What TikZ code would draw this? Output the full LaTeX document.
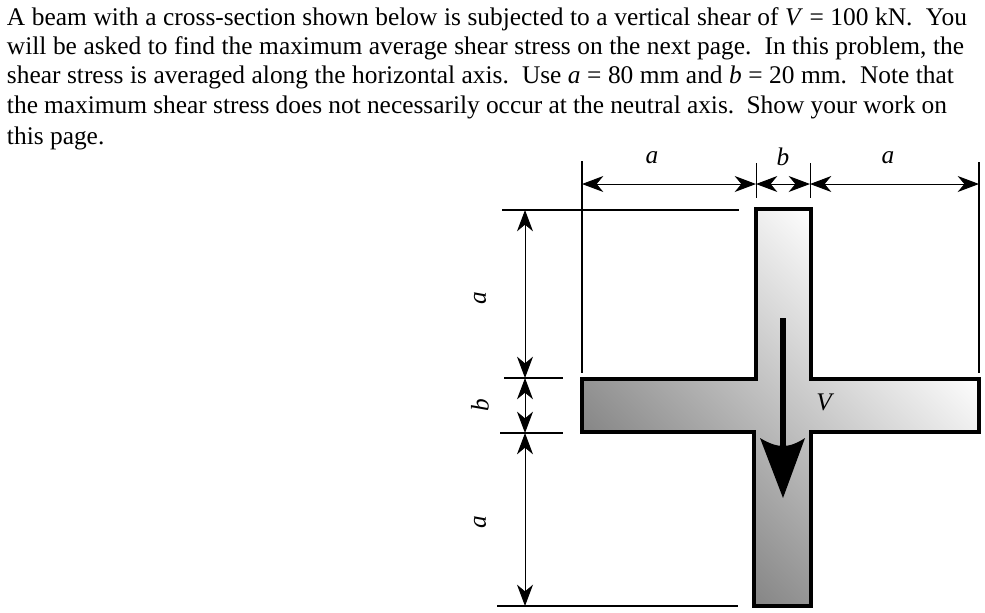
\documentclass[tikz,border=0pt]{standalone}
\usepackage{fontspec}
\setmainfont{Liberation Serif}
\usetikzlibrary{arrows.meta}
\tikzset{
 x=0.75pt,y=-0.75pt,
 txt/.style={anchor=base west,inner sep=0pt,outer sep=0pt,font=\fontsize{19.05pt}{22pt}\selectfont},
 lab/.style={inner sep=0pt,outer sep=0pt,font=\fontsize{19pt}{22pt}\selectfont\itshape},
 ext/.style={line width=1.5pt,black},
 dim/.style={line width=0.75pt,black,{Stealth[length=16pt,width=12pt,inset=5pt]}-{Stealth[length=16pt,width=12pt,inset=5pt]}},
}
\begin{document}
\begin{tikzpicture}
\useasboundingbox (0,0) rectangle (985,612);
% text
\node[txt] (l1) at (7,25) {\makebox[720pt][s]{A beam with a cross-section shown below is subjected to a vertical shear of \textit{V} = 100 kN.\ \ You}};
\node[txt] (l2) at (7,54) {\makebox[717.75pt][s]{will be asked to find the maximum average shear stress on the next page.\ \ In this problem, the}};
\node[txt] (l3) at (7,83.5) {\makebox[710.25pt][s]{shear stress is averaged along the horizontal axis.\ \ Use \textit{a} = 80 mm and \textit{b} = 20 mm.\ \ Note that}};
\node[txt] (l4) at (7,113) {\makebox[705pt][s]{the maximum shear stress does not necessarily occur at the neutral axis.\ \ Show your work on}};
\node[txt] (l5) at (7,144) {this page.};
% cross
\begin{scope}
\clip (756,209) -- (811,209) -- (811,379) -- (979,379) -- (979,432) -- (811,432) -- (811,606) -- (754,606) -- (754,432) -- (582,432) -- (582,379) -- (756,379) -- cycle;
\shade[transform canvas={rotate around={45:(781,405)}},left color=black!48,right color=white] (781-162,405-420) rectangle (781+162,405+420);
\end{scope}
\draw[line width=2.7pt,line join=miter] (756,209) -- (811,209) -- (811,379) -- (979,379) -- (979,432) -- (811,432) -- (811,606) -- (754,606) -- (754,432) -- (582,432) -- (582,379) -- (756,379) -- cycle;
% extension lines
\coordinate (e1a) at (582,161); \coordinate (e1b) at (582,373);
\coordinate (e2a) at (756,163); \coordinate (e2b) at (756,198);
\coordinate (e3a) at (810,163); \coordinate (e3b) at (810,198);
\coordinate (e4a) at (979,162); \coordinate (e4b) at (979,373);
\draw[ext] (e1a) -- (e1b);
\draw[line width=0.75pt] (e2a) -- (e2b);
\draw[line width=0.75pt] (e3a) -- (e3b);
\draw[ext] (e4a) -- (e4b);
\coordinate (h1a) at (502,210); \coordinate (h1b) at (739,210);
\coordinate (h2a) at (504,378); \coordinate (h2b) at (563,378);
\coordinate (h3a) at (500,433); \coordinate (h3b) at (563,433);
\coordinate (h4a) at (497,606); \coordinate (h4b) at (738,606);
\draw[ext] (h1a) -- (h1b);
\draw[ext] (h2a) -- (h2b);
\draw[ext] (h3a) -- (h3b);
\draw[ext] (h4a) -- (h4b);
% dimensions
\coordinate (d1) at (582,184); \coordinate (d2) at (756,184); \coordinate (d3) at (810,184); \coordinate (d4) at (979,184);
\draw[dim] (d1) -- (d2);
\draw[dim] (d2) -- (d3);
\draw[dim] (d3) -- (d4);
\coordinate (v1) at (525,210); \coordinate (v2) at (525,378); \coordinate (v3) at (525,433); \coordinate (v4) at (525,606);
\draw[dim] (v1) -- (v2);
\draw[dim] (v2) -- (v3);
\draw[dim] (v3) -- (v4);
% V arrow
\coordinate (vs) at (783,318); \coordinate (ve) at (783,446);
\draw[line width=4.4pt] (vs) -- (ve);
\fill (760,438) .. controls (770,444) and (777,446) .. (783,446) .. controls (789,446) and (796,444) .. (805,438) -- (783,498) -- cycle;
% labels
\node[lab] (la1) at (652,158) {a};
\node[lab] (lb1) at (783,157) {b};
\node[lab] (la2) at (888,158) {a};
\node[lab] (lv) at (824,402) {V};
\node[lab,rotate=90] (la3) at (480,298) {a};
\node[lab,rotate=90] (lb2) at (480,405) {b};
\node[lab,rotate=90] (la4) at (480,522) {a};
\end{tikzpicture}
\end{document}
